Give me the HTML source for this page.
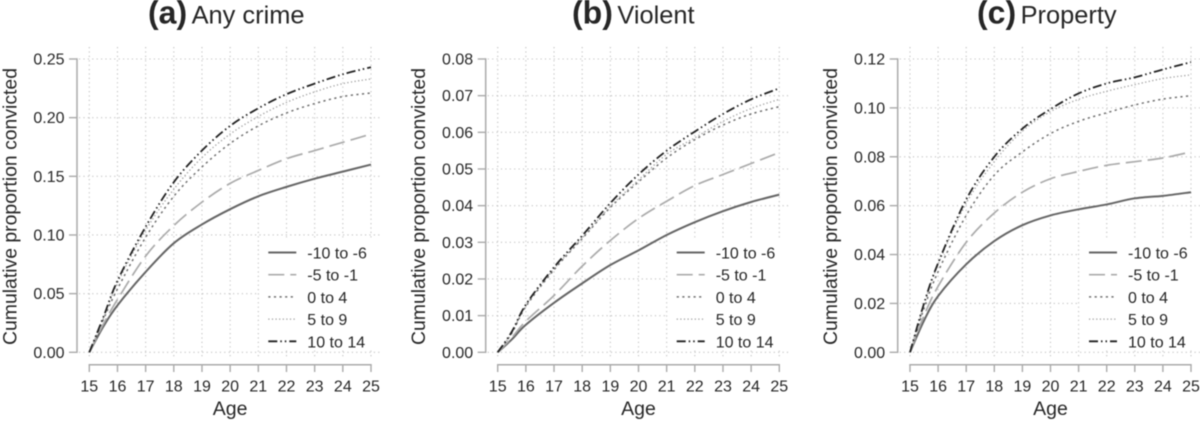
<!DOCTYPE html>
<html>
<head>
<meta charset="utf-8">
<style>
html,body{margin:0;padding:0;background:#fff;width:1200px;height:422px;overflow:hidden}
svg{display:block;filter:blur(0.45px)}
text{font-family:"Liberation Sans",sans-serif;fill:#262626}
</style>
</head>
<body>
<svg id="chart" width="1200" height="422" viewBox="0 0 1200 422" xmlns="http://www.w3.org/2000/svg"></svg>
<script>
const ages = [15, 15.5, 16, 17, 18, 19, 20, 21, 22, 23, 24, 25];
const xTickLabels = ["15","16","17","18","19","20","21","22","23","24","25"];
const cohortLabels = ["-10 to -6", "-5 to -1", "0 to 4", "5 to 9", "10 to 14"];

const anyCrimeTicks = ["0.00","0.05","0.10","0.15","0.20","0.25"];
const anyCrimeCohort1 = [0, .022, .040, .0685, .093, .109, .122, .133, .141, .148, .154, .160];
const anyCrimeCohort2 = [0, .024, .045, .082, .108, .128, .144, .155, .165, .172, .179, .186];
const anyCrimeCohort3 = [0, .028, .054, .098, .133, .158, .178, .193, .204, .212, .218, .221];
const anyCrimeCohort4 = [0, .029, .059, .104, .139, .166, .186, .201, .213, .222, .229, .233];
const anyCrimeCohort5 = [0, .030, .061, .107, .145, .172, .193, .208, .220, .229, .237, .243];

const violentTicks = ["0.00","0.01","0.02","0.03","0.04","0.05","0.06","0.07","0.08"];
const violentCohort1 = [0, .0035, .0075, .0135, .0188, .0238, .0278, .0320, .0355, .0385, .0410, .0430];
const violentCohort2 = [0, .0040, .0085, .0155, .0235, .0305, .0365, .0412, .0455, .0485, .0515, .0545];
const violentCohort3 = [0, .0052, .0125, .0225, .0310, .0395, .0465, .0530, .0580, .0620, .0650, .0670];
const violentCohort4 = [0, .0053, .0128, .0228, .0312, .0398, .0470, .0540, .0585, .0630, .0665, .0690];
const violentCohort5 = [0, .0056, .0130, .0232, .0318, .0407, .0485, .0550, .0602, .0650, .0690, .0720];

const propertyTicks = ["0.00","0.02","0.04","0.06","0.08","0.10","0.12"];
const propertyCohort1 = [0, .0130, .0230, .0360, .0455, .0520, .0560, .0585, .0605, .0630, .0640, .0655];
const propertyCohort2 = [0, .0150, .0270, .0450, .0570, .0655, .0710, .0740, .0765, .0780, .0795, .0820];
const propertyCohort3 = [0, .0180, .0330, .0560, .0725, .0820, .0895, .0945, .0980, .1012, .1036, .1050];
const propertyCohort4 = [0, .0195, .0360, .0610, .0780, .0905, .0985, .1035, .1068, .1095, .1120, .1135];
const propertyCohort5 = [0, .0200, .0365, .0625, .0800, .0915, .0995, .1059, .1100, .1125, .1157, .1187];

const NS = "http://www.w3.org/2000/svg";
const root = document.getElementById("chart");
const TOP = 59, BOTTOM = 352.3;
const lineStyles = [
  {stroke:"#666666", width:2, dash:""},
  {stroke:"#ababab", width:1.7, dash:"16 6"},
  {stroke:"#707070", width:1.5, dash:"2.2 3.4"},
  {stroke:"#9a9a9a", width:1.3, dash:"1.2 2.4"},
  {stroke:"#222222", width:1.8, dash:"9 3 1.5 3 1.5 3"}
];

function make(parent, tag, props, txt) {
  const n = document.createElementNS(NS, tag);
  for (const k in props) n.setAttribute(k, props[k]);
  if (txt !== undefined) n.textContent = txt;
  parent.appendChild(n);
  return n;
}

function smoothPath(px) {
  let d = "M" + px[0][0].toFixed(2) + " " + px[0][1].toFixed(2);
  for (let i = 0; i < px.length - 1; i++) {
    const p0 = px[Math.max(i - 1, 0)], p1 = px[i], p2 = px[i + 1], p3 = px[Math.min(i + 2, px.length - 1)];
    const c1x = p1[0] + (p2[0] - p0[0]) / 6, c1y = p1[1] + (p2[1] - p0[1]) / 6;
    const c2x = p2[0] - (p3[0] - p1[0]) / 6, c2y = p2[1] - (p3[1] - p1[1]) / 6;
    d += "C" + c1x.toFixed(2) + " " + c1y.toFixed(2) + " " + c2x.toFixed(2) + " " + c2y.toFixed(2) + " " + p2[0].toFixed(2) + " " + p2[1].toFixed(2);
  }
  return d;
}

function drawPanel(cfg) {
  const g = make(root, "g", {});
  
  
  const tickVals = cfg.yTicks.map(Number);
  const yMax = tickVals[tickVals.length - 1];
  const x = a => cfg.x0 + (a - 15) * (cfg.x1 - cfg.x0) / 10;
  const y = v => BOTTOM - v * (BOTTOM - TOP) / yMax;

  const title = make(g, "text", {x: cfg.titleX, y: 23.5, "font-size": 25.4});
  
  
  make(title, "tspan", {"font-weight": "bold", "font-size": 32}, cfg.letter);
  make(title, "tspan", {dx: 4.5}, cfg.name);

  // grid
  xTickLabels.forEach(t => {
    const gx = make(g, "line", {x1: x(+t), x2: x(+t), y1: 47, y2: 358, stroke: "#c2c2c2", "stroke-width": 1.1, "stroke-dasharray": "1.2 3.2"});
    
    
  });
  tickVals.forEach(v => {
    const gy = make(g, "line", {x1: cfg.axisX + 2, x2: cfg.x1 + 9, y1: y(v), y2: y(v), stroke: "#c2c2c2", "stroke-width": 1.1, "stroke-dasharray": "1.2 3.2"});
    
    
  });

  // legend backdrop
  const lx = cfg.x0 + 170;
  const bg = make(g, "rect", {x: lx, y: 240, width: 122, height: 110, fill: "#fff"});
  
  

  // axes
  const yAxis = make(g, "line", {x1: cfg.axisX, x2: cfg.axisX, y1: TOP - .7, y2: BOTTOM + .7, stroke: "#aaa", "stroke-width": 1.5});
  
  
  cfg.yTicks.forEach((t, i) => {
    const tk = make(g, "line", {x1: cfg.axisX - 8, x2: cfg.axisX, y1: y(tickVals[i]), y2: y(tickVals[i]), stroke: "#aaa", "stroke-width": 1.4});
    
    
    const lb = make(g, "text", {x: cfg.axisX - 12.5, y: y(tickVals[i]) + 5.5, "text-anchor": "end", "font-size": 16}, t);
    
    
  });
  const xAxis = make(g, "line", {x1: cfg.x0 - .7, x2: cfg.x1 + .7, y1: 364.7, y2: 364.7, stroke: "#aaa", "stroke-width": 1.5});
  
  
  xTickLabels.forEach(t => {
    const tk = make(g, "line", {x1: x(+t), x2: x(+t), y1: 364.7, y2: 372, stroke: "#aaa", "stroke-width": 1.4});
    
    
    const lb = make(g, "text", {x: x(+t), y: 391.5, "text-anchor": "middle", "font-size": 16}, t);
    
    
  });
  const xt = make(g, "text", {x: x(20), y: 415, "text-anchor": "middle", "font-size": 19.5}, "Age");
  
  
  const yt = make(g, "text", {transform: "translate(" + cfg.yTitleX + " 206.5) rotate(-90)", "text-anchor": "middle", "font-size": 19.4}, "Cumulative proportion convicted");
  
  

  // series
  cfg.series.forEach((vals, i) => {
    const st = lineStyles[i];
    const px = vals.map((v, j) => [x(ages[j]), y(v)]);
    const p = make(g, "path", {d: smoothPath(px), fill: "none", stroke: st.stroke, "stroke-width": st.width, "stroke-dasharray": st.dash, "stroke-linejoin": "round"});
    
    
  });

  // legend
  cohortLabels.forEach((lab, i) => {
    const st = lineStyles[i];
    const ly = 252.5 + i * 22.2;
    const entry = make(g, "g", {});
    
    
    make(entry, "line", {x1: lx + 9, x2: lx + 37, y1: ly, y2: ly, stroke: st.stroke, "stroke-width": st.width, "stroke-dasharray": st.dash});
    make(entry, "text", {x: lx + 48, y: ly + 6, "font-size": 16}, lab);
  });
}

drawPanel({key:"any-crime", letter:"(a)", name:"Any crime", titleX:148, x0:89.3, x1:371, axisX:77, yTitleX:16.5,
  yTicks:anyCrimeTicks, series:[anyCrimeCohort1, anyCrimeCohort2, anyCrimeCohort3, anyCrimeCohort4, anyCrimeCohort5]});
drawPanel({key:"violent", letter:"(b)", name:"Violent", titleX:572, x0:497.7, x1:779.3, axisX:485.7, yTitleX:425,
  yTicks:violentTicks, series:[violentCohort1, violentCohort2, violentCohort3, violentCohort4, violentCohort5]});
drawPanel({key:"property", letter:"(c)", name:"Property", titleX:977, x0:910, x1:1191, axisX:897.7, yTitleX:837,
  yTicks:propertyTicks, series:[propertyCohort1, propertyCohort2, propertyCohort3, propertyCohort4, propertyCohort5]});
</script>
</body>
</html>
